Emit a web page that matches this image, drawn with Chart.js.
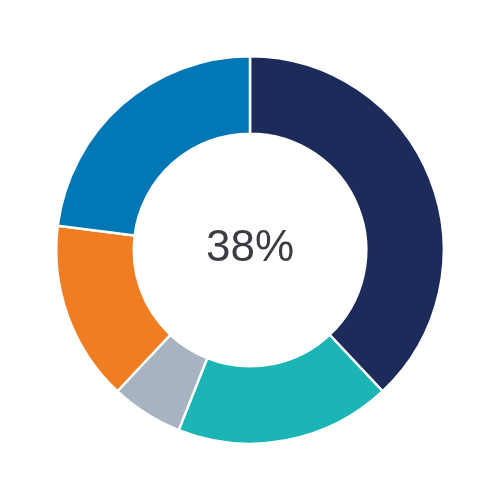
<!DOCTYPE html>
<html>
<head>
<meta charset="utf-8">
<script src="https://cdn.jsdelivr.net/npm/chart.js@4"></script>
<style>
  html, body { margin: 0; padding: 0; background: #fff; }
  #wrap { width: 500px; height: 500px; }
</style>
</head>
<body>
<div id="wrap"><canvas id="grafica" width="500" height="500"></canvas></div>
<script>
// valors llegits de la imatge (en sentit horari des de dalt)
const labels = ["A", "B", "C", "D", "E"];
const valors = [38, 18, 6, 15, 23];
const colors = ["#1d2b5b", "#1cb5b5", "#a8b3c1", "#f07d22", "#0277b5"];
const textCentre = "38%";

// text al mig del dònut
const centreText = {
  id: "centreText",
  afterDraw(chart) {
    const meta = chart.getDatasetMeta(0).data[0];
    const ctx = chart.ctx;
    ctx.save();
    ctx.font = "44px 'Liberation Sans', Arial, sans-serif";
    ctx.fillStyle = "#3a3d44";
    ctx.textAlign = "center";
    ctx.textBaseline = "middle";
    ctx.fillText(textCentre, meta.x, meta.y - 1);
    ctx.restore();
  }
};

const config = {
  type: "doughnut",
  data: {
    labels: labels,
    datasets: [{
      data: valors,
      backgroundColor: colors,
      borderColor: "#ffffff",
      borderWidth: 2.5
    }]
  },
  options: {
    responsive: false,
    animation: false,
    cutout: "60%",
    layout: { padding: 55 },
    plugins: {
      legend: { display: false },
      tooltip: { enabled: false }
    }
  },
  plugins: [centreText]
};

new Chart(document.getElementById("grafica"), config);
</script>
</body>
</html>
